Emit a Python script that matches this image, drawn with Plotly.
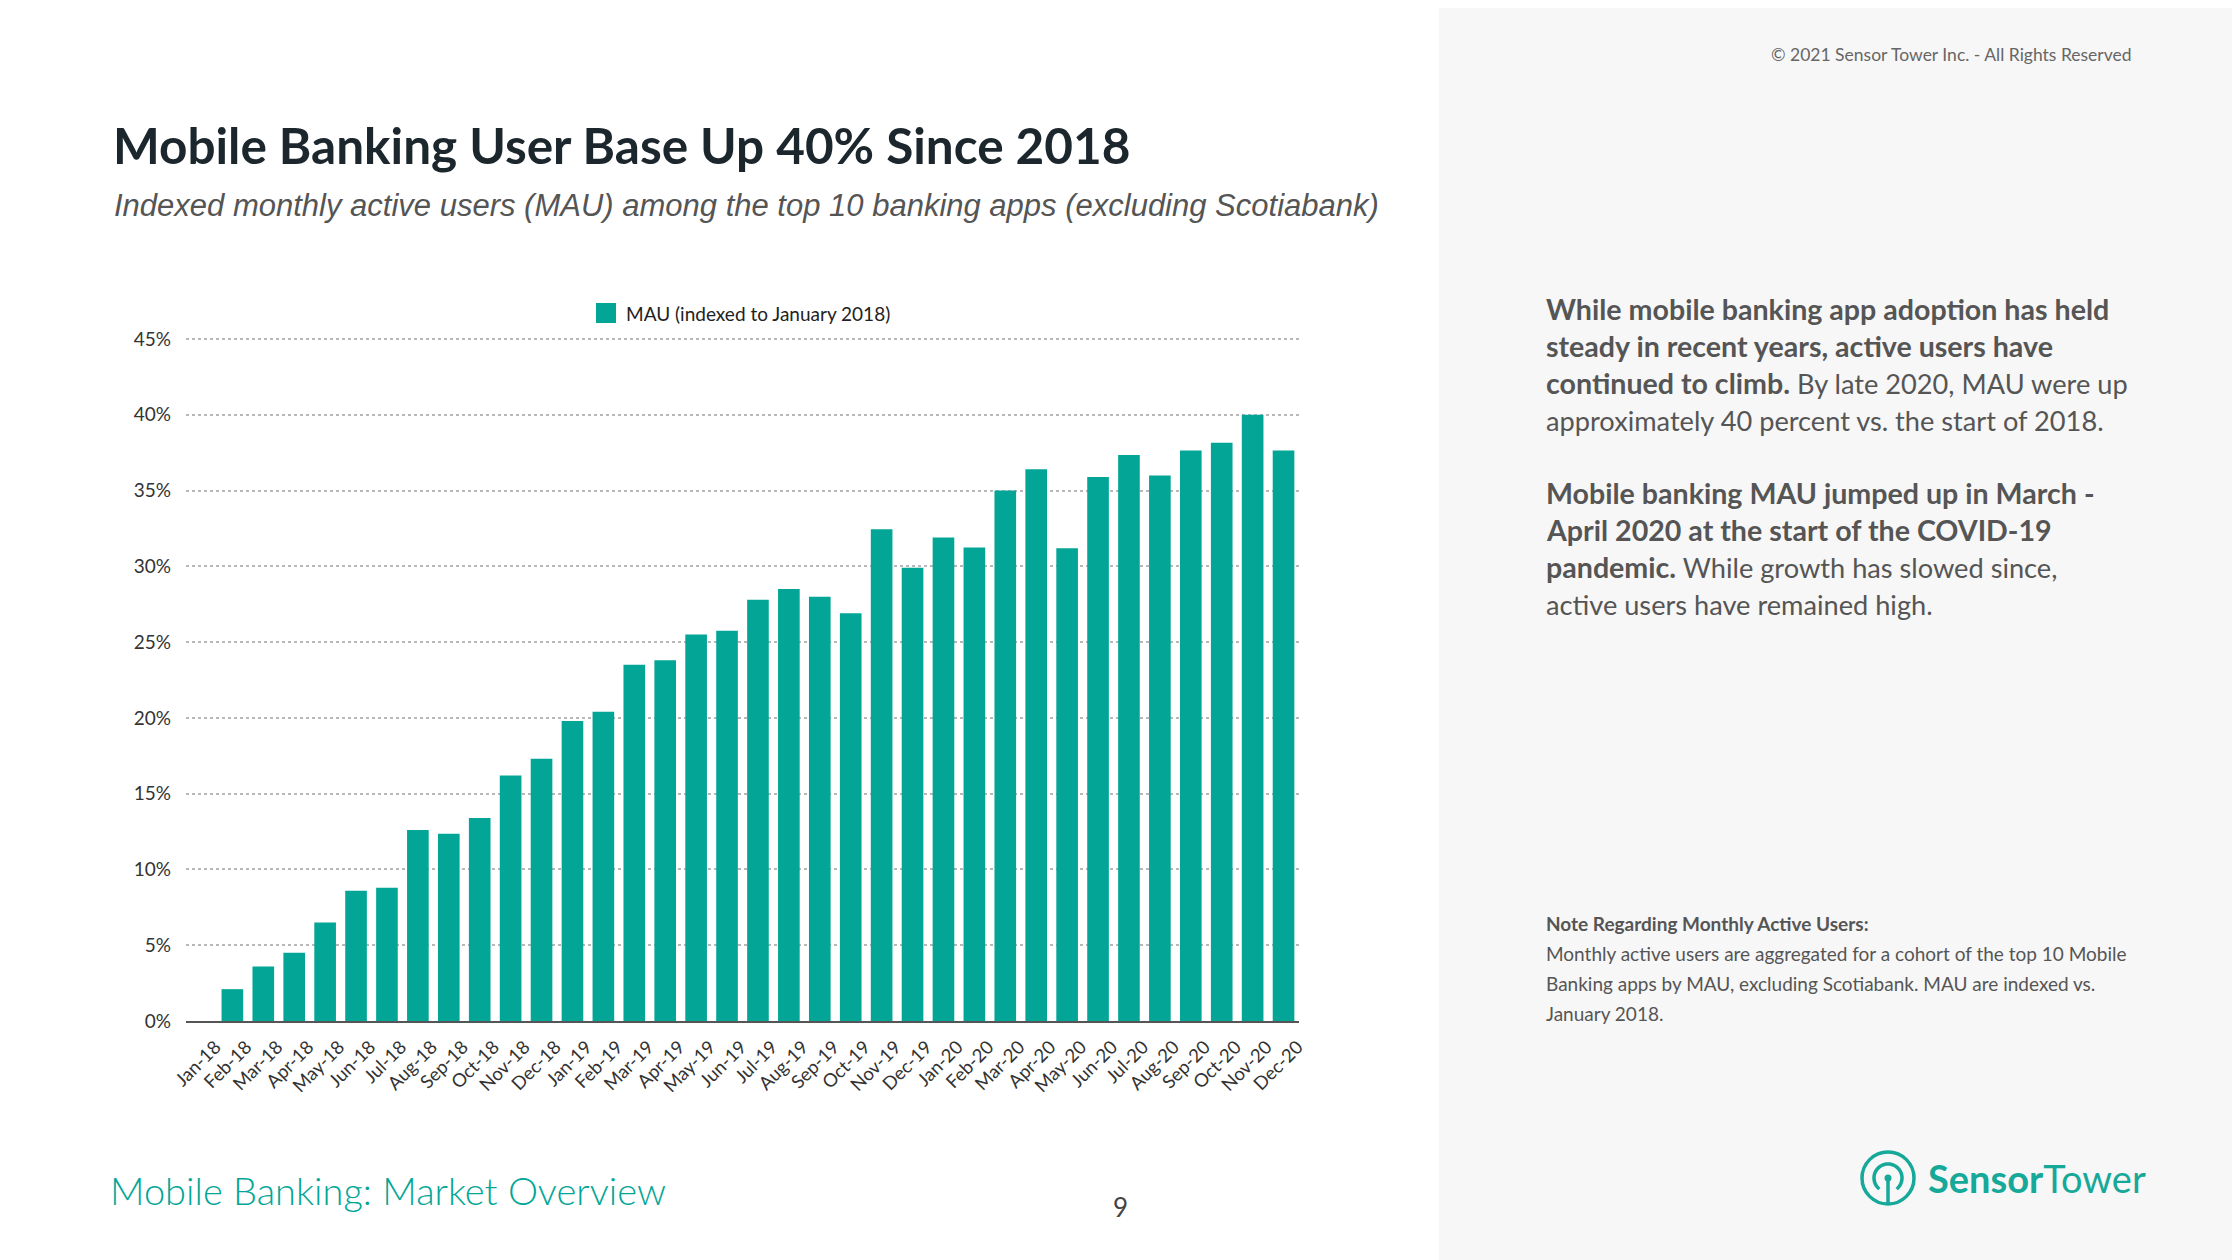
import numpy as np
import plotly.graph_objects as go

# ---------------- data ----------------
months = ["Jan-18", "Feb-18", "Mar-18", "Apr-18", "May-18", "Jun-18", "Jul-18", "Aug-18",
          "Sep-18", "Oct-18", "Nov-18", "Dec-18", "Jan-19", "Feb-19", "Mar-19", "Apr-19",
          "May-19", "Jun-19", "Jul-19", "Aug-19", "Sep-19", "Oct-19", "Nov-19", "Dec-19",
          "Jan-20", "Feb-20", "Mar-20", "Apr-20", "May-20", "Jun-20", "Jul-20", "Aug-20",
          "Sep-20", "Oct-20", "Nov-20", "Dec-20"]
mau = [0.0, 2.1, 3.6, 4.5, 6.5, 8.6, 8.8, 12.6,
       12.35, 13.4, 16.2, 17.3, 19.8, 20.4, 23.5, 23.8,
       25.5, 25.75, 27.8, 28.5, 28.0, 26.9, 32.45, 29.9,
       31.9, 31.25, 35.0, 36.4, 31.2, 35.9, 37.35, 36.0,
       37.65, 38.15, 40.0, 37.65]
series_name = "MAU (indexed to January 2018)"
y_ticks = [0, 5, 10, 15, 20, 25, 30, 35, 40, 45]
y_tick_labels = ["0%", "5%", "10%", "15%", "20%", "25%", "30%", "35%", "40%", "45%"]

TEAL = "#03a696"
LOGO_TEAL = "#16a898"

# ---------------- geometry helpers (page pixel -> paper) ----------------
PAGE_OFF = 8                      # default body margin of the html page
W_PX, H_PX = 2240 - PAGE_OFF, 1260 - PAGE_OFF
Y_TOP = 45.2
L, R, T, B = 186, 1299, 336, 1021  # plot area in page pixels
PW, PH = R - L, B - T


def px(x):
    return (x - L) / PW


def py(y):
    return (B - y) / PH


fig = go.Figure()
fig.add_trace(go.Bar(x=months, y=mau, name=series_name, marker=dict(color=TEAL, line=dict(width=0)),
                     showlegend=False))

BODY = "Lato"

fig.update_layout(
    width=W_PX, height=H_PX,
    margin=dict(l=L - PAGE_OFF, r=W_PX - (R - PAGE_OFF), t=T - PAGE_OFF, b=H_PX - (B - PAGE_OFF),
                autoexpand=False),
    paper_bgcolor="white", plot_bgcolor="rgba(0,0,0,0)",
    bargap=0.3,
    font=dict(family=BODY, color="#333"),
    showlegend=False,
    xaxis=dict(type="category", tickangle=-45, tickfont=dict(size=18.5, color="#333", family=BODY),
               showgrid=False, showline=True, linecolor="#555", linewidth=2, ticks="",
               ticklabelstandoff=6, ticklabelshift=14, fixedrange=True),
    yaxis=dict(range=[0, Y_TOP], tickvals=y_ticks, ticktext=y_tick_labels,
               tickfont=dict(size=19, color="#333", family=BODY),
               showgrid=True, gridcolor="#b8b8b8", griddash="dot", gridwidth=1.5,
               zeroline=False, showline=False, ticks="", ticklabelstandoff=14),
)

shapes = []
# right grey panel
shapes.append(dict(type="rect", xref="paper", yref="paper", x0=px(1439), x1=px(2260), y0=py(1280), y1=py(-20),
                   fillcolor="#f7f7f7", line=dict(width=0), layer="below"))

# legend swatch
shapes.append(dict(type="rect", xref="paper", yref="paper", x0=px(596), x1=px(616), y0=py(323), y1=py(303),
                   fillcolor=TEAL, line=dict(width=0)))

# logo icon
cx, cy, r_out, r_in = 1888, 1178, 26, 14
shapes.append(dict(type="circle", xref="paper", yref="paper", x0=px(cx - r_out), x1=px(cx + r_out),
                   y0=py(cy + r_out), y1=py(cy - r_out), line=dict(color=LOGO_TEAL, width=3.5)))
ang = np.deg2rad(np.linspace(-52, 232, 60))
pts = [(px(cx + r_in * np.cos(a)), py(cy - r_in * np.sin(a))) for a in ang]
path = "M " + " L ".join(f"{a:.5f},{b:.5f}" for a, b in pts)
shapes.append(dict(type="path", xref="paper", yref="paper", path=path, line=dict(color=LOGO_TEAL, width=3.5)))
shapes.append(dict(type="line", xref="paper", yref="paper", x0=px(cx), x1=px(cx), y0=py(cy), y1=py(cy + r_out),
                   line=dict(color=LOGO_TEAL, width=3.5)))
shapes.append(dict(type="circle", xref="paper", yref="paper", x0=px(cx - 3.5), x1=px(cx + 3.5),
                   y0=py(cy + 3.5), y1=py(cy - 3.5), fillcolor=LOGO_TEAL, line=dict(width=0)))
fig.update_layout(shapes=shapes)

ann = []


def text(x, y, s, size, color, family=BODY, xanchor="left", weight=None, **kw):
    f = dict(size=size, color=color, family=family)
    if weight is not None:
        f["weight"] = weight
    ann.append(dict(x=px(x), y=py(y), xref="paper", yref="paper", text=s, showarrow=False,
                    xanchor=xanchor, yanchor="middle", font=f, **kw))


# legend text
text(624, 313, series_name, 19, "#222")

# title & subtitle
text(111, 145, "<b>Mobile Banking User Base Up 40% Since 2018</b>", 49.5, "#1c262d")
text(112, 205, "<i>Indexed monthly active users (MAU) among the top 10 banking apps (excluding Scotiabank)</i>",
     31, "#555", family="Liberation Sans")

# copyright
text(2134, 55, "© 2021 Sensor Tower Inc. - All Rights Reserved", 17.5, "#666", xanchor="right")


# right commentary (bold parts slightly larger than the regular parts)
def bold(s):
    return f'<b><span style="font-size:28.6px">{s}</span></b>'


lines1 = [bold("While mobile banking app adoption has held"),
          bold("steady in recent years, active users have"),
          bold("continued to climb.") + " By late 2020, MAU were up",
          "approximately 40 percent vs. the start of 2018."]
lines2 = [bold("Mobile banking MAU jumped up in March -"),
          bold("April 2020 at the start of the COVID-19"),
          bold("pandemic.") + " While growth has slowed since,",
          "active users have remained high."]
for i, s in enumerate(lines1):
    text(1544, 309 + 37.1 * i, s, 27.2, "#555")
for i, s in enumerate(lines2):
    text(1544, 493 + 37.1 * i, s, 27.2, "#555")

notes = ["<b>Note Regarding Monthly Active Users:</b>",
         "Monthly active users are aggregated for a cohort of the top 10 Mobile",
         "Banking apps by MAU, excluding Scotiabank. MAU are indexed vs.",
         "January 2018."]
for i, s in enumerate(notes):
    text(1544, 923 + 30.3 * i, s, 19, "#555")

# footer
text(108, 1190, "Mobile Banking: Market Overview", 38, TEAL, weight=300)
text(1120, 1207, "9", 26, "#444", xanchor="center")
text(1926, 1178, "<b>Sensor</b>Tower", 38, LOGO_TEAL)

fig.update_layout(annotations=ann)

fig.write_html("out.html")
